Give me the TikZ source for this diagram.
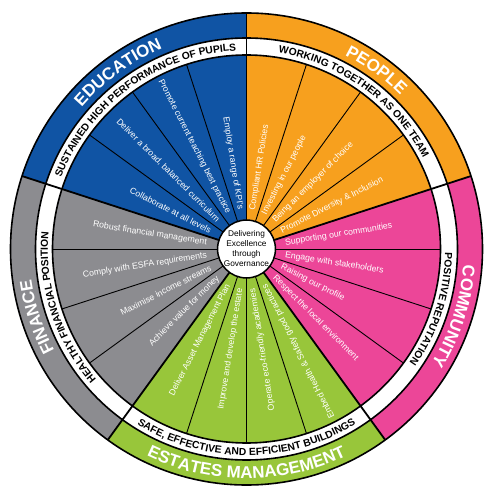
\documentclass[tikz,border=0pt]{standalone}
\usepackage{fontspec}
\setmainfont{Liberation Sans}
\usetikzlibrary{decorations.text}
\definecolor{edublue}{RGB}{16,84,164}
\definecolor{peopleorange}{RGB}{247,160,30}
\definecolor{commpink}{RGB}{236,70,152}
\definecolor{estgreen}{RGB}{152,198,58}
\definecolor{fingrey}{RGB}{140,140,144}

\begin{document}
\begin{tikzpicture}[x=1pt, y=1pt,
    every node/.style={font=\fontsize{8.7}{10}\selectfont},
    item/.style={text=white, inner sep=0pt},
    outward/.style={item, anchor=west},
    inward/.style={item, anchor=east},
    divider/.style={black, line width=0.9pt},
    boundary/.style={black, line width=1.8pt},
    ringline/.style={black, line width=1.6pt},
    bandtitle/.style={decorate, decoration={text along path, text align=center, text color=white,
        text={|\fontsize{17}{17}\selectfont\bfseries|#1}}},
    ringtitle/.style={decorate, decoration={text along path, text align=center, text color=black,
        text={|\fontsize{10.3}{10.3}\selectfont\bfseries|#1}}}
  ]
  \useasboundingbox (-246.5,-251) rectangle (253.5,249);

  \foreach \a/\c in {90/edublue, 18/peopleorange, -54/commpink, -126/estgreen, 162/fingrey}
    \fill[\c] (0,0) -- (\a:236) arc[start angle=\a, delta angle=72, radius=236] -- cycle;
  \fill[white, even odd rule] (0,0) circle[radius=211] (0,0) circle[radius=194];

  \foreach \a in {108,126,144,36,54,72,0,-18,-36,-72,-90,-108,180,198,216}
    \draw[divider] (\a:28) -- (\a:194);
  \foreach \a in {90,18,-54,-126,162}
    \draw[boundary] (\a:28) -- (\a:236);
  \draw[ringline] (0,0) circle[radius=236] (0,0) circle[radius=211] (0,0) circle[radius=194];

  \node[draw, circle, fill=white, line width=1.5pt, minimum size=55pt, inner sep=0pt, align=center,
    font=\fontsize{8.3}{10}\selectfont] (hub) at (0,0) {Delivering\\Excellence\\through\\Governance};

  \foreach \a/\t [count=\i] in {81/Compliant HR Policies, 63/Investing in our people,
      45/Being an employer of choice, 27/Promote Diversity \& Inclusion,
      9/Supporting our communities, -9/Engage with stakeholders,
      -27/Raising our profile, -45/Respect the local environment}
    \node[outward, rotate=\a] (out\i) at (\a:39) {\t};

  \foreach \a/\t [count=\i] in {99/Employ a range of KPI's, 117/Promote current teaching best practice,
      135/{Deliver a broad, balanced curriculum}, 153/Collaborate at all levels,
      171/Robust financial management, 189/Comply with ESFA requirements,
      207/Maximise income streams, 225/Achieve value for money,
      -117/Deliver Asset Management Plan, -99/Improve and develop the estate,
      -81/Operate eco-friendly academies, -63/Embed Health \& Safety good practices}
    \node[inward, rotate=\a+180] (in\i) at (\a:40) {\t};

  \path[bandtitle=EDUCATION] (162:217.4) arc[start angle=162, end angle=90, radius=217.4];
  \path[bandtitle=PEOPLE] (90:217.4) arc[start angle=90, end angle=18, radius=217.4];
  \path[bandtitle=COMMUNITY] (18:217.4) arc[start angle=18, end angle=-54, radius=217.4];
  \path[bandtitle=FINANCE] (234:217.4) arc[start angle=234, end angle=162, radius=217.4];
  \path[bandtitle={ESTATES MANAGEMENT}] (-126:229.6) arc[start angle=-126, end angle=-54, radius=229.6];

  \path[ringtitle={SUSTAINED HIGH PERFORMANCE OF PUPILS}] (162:198.6) arc[start angle=162, end angle=90, radius=198.6];
  \path[ringtitle={WORKING TOGETHER AS ONE TEAM}] (90:198.6) arc[start angle=90, end angle=18, radius=198.6];
  \path[ringtitle={POSITIVE REPUTATION}] (18:198.6) arc[start angle=18, end angle=-54, radius=198.6];
  \path[ringtitle={HEALTHY FINANCIAL POSITION}] (234:198.6) arc[start angle=234, end angle=162, radius=198.6];
  \path[ringtitle={SAFE, EFFECTIVE AND EFFICIENT BUILDINGS}] (-126:206.4) arc[start angle=-126, end angle=-54, radius=206.4];
\end{tikzpicture}
\end{document}
